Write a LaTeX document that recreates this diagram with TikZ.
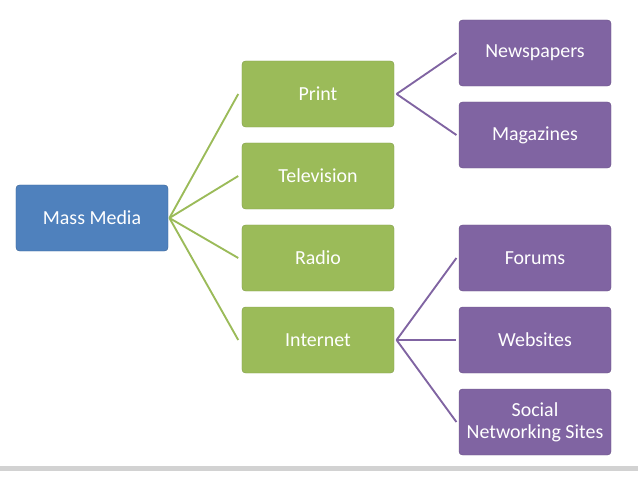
\documentclass[tikz,border=0pt]{standalone}
\usepackage{fontspec}
\setmainfont{Carlito}
\usetikzlibrary{positioning}
\definecolor{mediablue}{RGB}{79,129,189}
\definecolor{mediagreen}{RGB}{155,187,89}
\definecolor{mediapurple}{RGB}{128,100,162}
\begin{document}
\begin{tikzpicture}[
    x=0.03cm, y=-0.03cm,
    font=\fontsize{17}{19}\selectfont,
    box/.style={
        rounded corners=3pt,
        text=white,
        align=center,
        minimum width=4.56cm,
        minimum height=1.98cm,
        inner sep=2pt
    },
    rootbox/.style={box, fill=mediablue, draw=mediablue!80!black},
    midbox/.style={box, fill=mediagreen, draw=mediagreen!85!black},
    leafbox/.style={box, fill=mediapurple, draw=mediapurple!85!black},
    greenline/.style={mediagreen, line width=1.6pt},
    purpleline/.style={mediapurple, line width=1.6pt}
]
    \useasboundingbox (0,0) rectangle (638,479);
    \fill[gray!35] (0,466) rectangle (638,471);

    % --- Root ---
    \node[rootbox] (mass) at (92,218) {Mass Media};

    % --- Second level ---
    \node[midbox] (print) at (318,94) {Print};
    \node[midbox] (tv) at (318,176) {Television};
    \node[midbox] (radio) at (318,258) {Radio};
    \node[midbox] (internet) at (318,340) {Internet};

    % --- Third level ---
    \node[leafbox] (news) at (535,53) {Newspapers};
    \node[leafbox] (mags) at (535,135) {Magazines};
    \node[leafbox] (forums) at (535,258) {Forums};
    \node[leafbox] (web) at (535,340) {Websites};
    \node[leafbox] (social) at (535,422) {Social\\Networking Sites};

    % --- Connectors ---
    \foreach \n in {print,tv,radio,internet} {
        \draw[greenline] ([xshift=1pt]mass.east) -- ([xshift=-3pt]\n.west);
    }
    \foreach \n in {news,mags} {
        \draw[purpleline] ([xshift=2pt]print.east) -- ([xshift=-2pt]\n.west);
    }
    \foreach \n in {forums,web,social} {
        \draw[purpleline] ([xshift=2pt]internet.east) -- ([xshift=-2pt]\n.west);
    }
\end{tikzpicture}
\end{document}
